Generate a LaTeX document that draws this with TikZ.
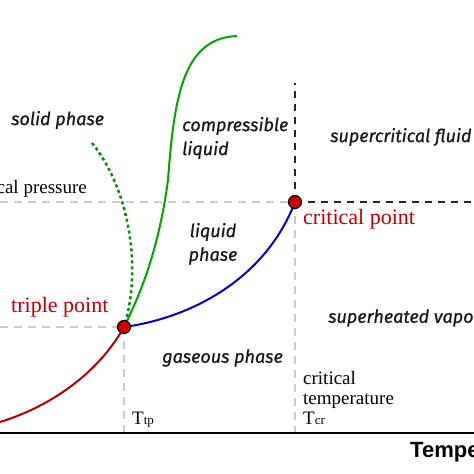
\documentclass[tikz,border=0pt]{standalone}
\usepackage{fontspec}
\setmainfont{Liberation Serif}
\newfontfamily\phasefont{Fira Sans}[FakeBold=0.8]
\newfontfamily\axisfont{Liberation Sans}
\usetikzlibrary{calc}

\tikzset{
	phase/.style={font=\phasefont\itshape\fontsize{18}{20}\selectfont, text=black!90, inner sep=0pt},
	pointlabel/.style={font=\fontsize{22}{24}\selectfont, text=red!75!black, inner sep=0pt},
	plain/.style={font=\fontsize{19}{20}\selectfont, inner sep=0pt, align=left},
	guide/.style={line width=1.4pt, color=black!20, dash pattern=on 8pt off 6pt},
	critline/.style={line width=2pt, color=black!85, dash pattern=on 7pt off 6pt},
	curve/.style={line width=2pt},
	triple/.style={circle, draw=black, line width=1.2pt, fill=red!80!black, minimum size=13pt, inner sep=0pt}
}

\begin{document}
\begin{tikzpicture}[x=1pt, y=-1pt]
			%%%%% START %%%%%
			\useasboundingbox (0, 0) rectangle (474, 474);
			\clip (0, 0) rectangle (474, 474);
			
			\coordinate (tp) at (124, 327);
			\coordinate (cp) at (295, 202);
			
			% guide lines
			\draw[guide] (0, 202) -- (cp);
			\draw[guide] (0, 327) -- (tp);
			\draw[guide] (tp) -- (124, 433);
			\draw[guide] (cp) -- (295, 433);
			\draw[critline] (cp) -- (474, 202);
			\draw[critline] (cp) -- (295, 83);
			
			% axis
			\draw[line width=2pt] (0, 433) -- (474, 433);
			
			% phase boundaries
			\draw[curve, color=red!70!black] (0, 422) .. controls (55, 405) and (100, 370) .. (tp);
			\draw[curve, color=blue!75!black] (tp) .. controls (190, 318) and (265, 280) .. (cp);
			\draw[curve, color=green!65!black] (tp) .. controls (145, 285) and (160, 240) .. (168, 180)
				.. controls (174, 100) and (182, 38) .. (237, 36);
			\draw[curve, line width=2.5pt, color=green!55!black, dash pattern=on 3pt off 3pt] (92, 143) .. controls (130, 190) and (142, 270) .. (tp);
			
			\node[triple] (tpdot) at (tp) {};
			\node[triple] (cpdot) at (cp) {};
			
			% labels
			\node[phase, anchor=west] (solid) at (11, 120) {solid phase};
			\node[phase, anchor=west] (comp) at (182, 126) {compressible};
			\node[phase, anchor=west] (compliq) at (182, 150) {liquid};
			\node[phase] (liq) at (213, 232) {liquid};
			\node[phase] (liqph) at (213, 256) {phase};
			\node[phase, anchor=west] (super) at (330, 137) {supercritical fluid};
			\node[phase, anchor=west] (vapor) at (328, 318) {superheated vapor};
			\node[phase, anchor=west] (gas) at (162, 358) {gaseous phase};
			
			\node[plain, anchor=east] (pcr) at (87, 189) {critical pressure};
			\node[pointlabel, anchor=west] (cplabel) at (303, 219) {critical point};
			\node[pointlabel, anchor=west] (tplabel) at (11, 307) {triple point};
			\node[plain, anchor=north west] (tcr) at (303, 371) {critical\\temperature\\T{\fontsize{13}{13}\selectfont cr}};
			\node[plain, anchor=west] (ttp) at (132, 420) {T{\fontsize{13}{13}\selectfont tp}};
			\node[font=\axisfont\bfseries\fontsize{22}{24}\selectfont, anchor=west, inner sep=0pt] (taxis) at (410, 452) {Temperature};
			%%%%% END %%%%%
\end{tikzpicture}
\end{document}
